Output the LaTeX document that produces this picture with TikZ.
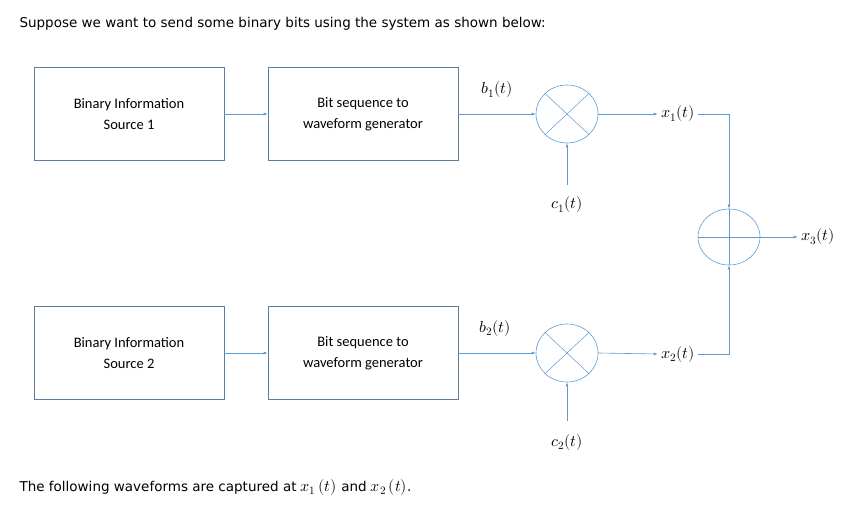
\documentclass[tikz,border=0pt]{standalone}
\usepackage{fontspec}
\usepackage{unicode-math}
\setmathfont{Latin Modern Math}
\newfontfamily\calfont{Carlito}
\newfontfamily\notefont{DejaVu Sans}
\usetikzlibrary{arrows.meta,shapes.geometric}
\definecolor{ln}{RGB}{91,155,213}
\definecolor{bx}{RGB}{95,125,155}
\begin{document}
\begin{tikzpicture}[x=1pt,y=-1pt,
  blk/.style={draw=bx,line width=0.6pt,minimum width=190pt,minimum height=93pt,align=center,font=\calfont\fontsize{14.5}{21}\selectfont},
  mul/.style={draw=ln,ellipse,line width=0.6pt,minimum width=62pt,minimum height=58pt},
  con/.style={draw=ln,line width=0.6pt,-{Latex[length=4pt,width=3pt]}},
  lbl/.style={font=\fontsize{16}{18}\selectfont}]
\useasboundingbox (0,0) rectangle (850,518);
\node[anchor=west,font=\notefont\fontsize{13.5}{15}\selectfont] (t1) at (16,24) {Suppose we want to send some binary bits using the system as shown below:};
\node[anchor=west,font=\notefont\fontsize{13.5}{15}\selectfont] (t2) at (16,487) {The following waveforms are captured at {\fontsize{16}{18}\selectfont$x_1\,(t)$} and {\fontsize{16}{18}\selectfont$x_2\,(t)$}.};
\node[blk] (s1) at (129,114) {Binary Information\\Source 1};
\node[blk] (g1) at (363,114) {Bit sequence to\\waveform generator};
\node[blk] (s2) at (129,353) {Binary Information\\Source 2};
\node[blk] (g2) at (363,353) {Bit sequence to\\waveform generator};
\node[mul] (m1) at (567,114) {};
\node[mul] (m2) at (567,353) {};
\node[mul,minimum height=56pt] (ad) at (729,237) {};
\foreach \m in {m1,m2}{
 \draw[ln,line width=0.5pt] (\m.north east) -- (\m.south west) (\m.north west) -- (\m.south east);}
\draw[ln,line width=0.5pt] (ad.north) -- (ad.south) (ad.west) -- (ad.east);
\node[lbl] (b1) at (497,90) {$b_1(t)$};
\node[lbl] (b2) at (495,328) {$b_2(t)$};
\node[lbl] (c1) at (567,205) {$c_1(t)$};
\node[lbl] (c2) at (567,442) {$c_2(t)$};
\node[lbl] (x1) at (678,114) {$x_1(t)$};
\node[lbl] (x2) at (678,354) {$x_2(t)$};
\node[lbl] (x3) at (818,237) {$x_3(t)$};
\coordinate (c1s) at (567,185);
\coordinate (c2s) at (567,421);
\draw[con] (s1) -- (g1);
\draw[con] (g1) -- (m1);
\draw[con] (s2) -- (g2);
\draw[con] (g2) -- (m2);
\draw[con] (c1s) -- (m1.south);
\draw[con] (c2s) -- (m2.south);
\draw[con] (m1.east) -- (x1.west);
\draw[con] (m2.east) -- (x2.west);
\draw[con] (x1.east) -| (ad.north);
\draw[con] (x2.east) -| (ad.south);
\draw[con] (ad.east) -- (x3.west);
\end{tikzpicture}
\end{document}
